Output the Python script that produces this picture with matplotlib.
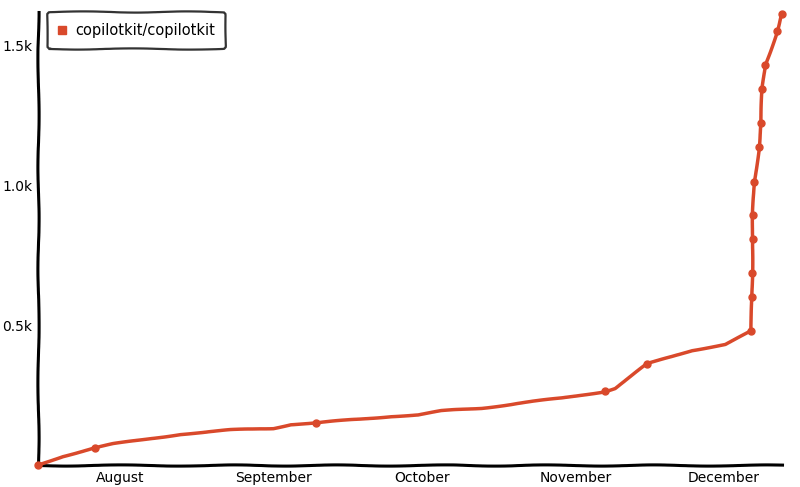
import matplotlib
matplotlib.use('Agg')
import matplotlib.pyplot as plt
import matplotlib.dates as mdates
from matplotlib.lines import Line2D
import pandas as pd

# 数据：星标历史
repo_name = "copilotkit/copilotkit"
dates = [
    "2023-07-15 10:00", "2023-07-20 10:00", "2023-07-26 22:00", "2023-07-30 14:00",
    "2023-08-05 02:00", "2023-08-13 05:00", "2023-08-23 07:00", "2023-09-01 00:00",
    "2023-09-04 12:00", "2023-09-09 14:00", "2023-09-24 19:00", "2023-09-30 05:00",
    "2023-10-04 22:00", "2023-10-13 00:00", "2023-10-20 12:00", "2023-10-29 05:00",
    "2023-11-07 00:00", "2023-11-09 00:00", "2023-11-15 12:00", "2023-11-18 00:00",
    "2023-11-24 14:00", "2023-12-01 07:00", "2023-12-06 14:00", "2023-12-06 15:00",
    "2023-12-06 17:00", "2023-12-06 19:00", "2023-12-06 21:00", "2023-12-07 04:00",
    "2023-12-08 02:00", "2023-12-08 12:00", "2023-12-08 19:00", "2023-12-09 09:00",
    "2023-12-11 20:00", "2023-12-12 18:00",
]
stars = [
    0, 32, 61, 75,
    89, 111, 125, 132,
    146, 150, 175, 179,
    193, 204, 221, 239,
    264, 275, 361, 375,
    411, 432, 479, 600,
    686, 807, 893, 1014,
    1136, 1225, 1346, 1432,
    1554, 1615,
]
# 带圆点的采样点
marked = [
    1, 0, 1, 0,
    0, 0, 0, 0,
    0, 1, 0, 0,
    0, 0, 0, 0,
    1, 0, 1, 0,
    0, 0, 1, 1,
    1, 1, 1, 1,
    1, 1, 1, 1,
    1, 1,
]
y_ticks = [500, 1000, 1500]
y_tick_labels = ["0.5k", "1.0k", "1.5k"]

line_color = '#d9492b'

plt.xkcd(scale=0.6, length=120, randomness=2)
plt.rcParams['font.family'] = ['DejaVu Sans']
plt.rcParams['font.size'] = 10
plt.rcParams['path.effects'] = []

x = pd.to_datetime(dates)
mx = [d for d, m in zip(x, marked) if m]
my = [s for s, m in zip(stars, marked) if m]

fig = plt.figure(figsize=(8, 4.87), dpi=100)
ax = fig.add_axes([0.0475, 0.045, 0.93, 0.93])

ax.plot(x, stars, color=line_color, linewidth=2.5, zorder=3, clip_on=False)
ax.plot(mx, my, 'o', color=line_color, markersize=5, zorder=4, clip_on=False)

ax.set_xlim(x[0], x[-1])
ax.set_ylim(0, 1620)
ax.set_yticks(y_ticks)
ax.set_yticklabels(y_tick_labels)
ax.xaxis.set_major_locator(mdates.MonthLocator())
ax.xaxis.set_major_formatter(mdates.DateFormatter('%B'))
ax.tick_params(axis='both', length=0, labelsize=10, pad=4)

ax.spines['top'].set_visible(False)
ax.spines['right'].set_visible(False)
ax.spines['left'].set_linewidth(2.2)
ax.spines['bottom'].set_linewidth(2.2)

handle = Line2D([], [], marker='s', color=line_color, linestyle='none', markersize=6)
leg = ax.legend([handle], [repo_name], loc='upper left', fontsize=10.5,
                frameon=True, fancybox=True, handlelength=0.6, handletextpad=0.6,
                borderpad=0.75, bbox_to_anchor=(0.012, 1.0), borderaxespad=0.0)
leg.get_frame().set_edgecolor('black')
leg.get_frame().set_linewidth(1.6)

fig.savefig('out.png', dpi=100)
